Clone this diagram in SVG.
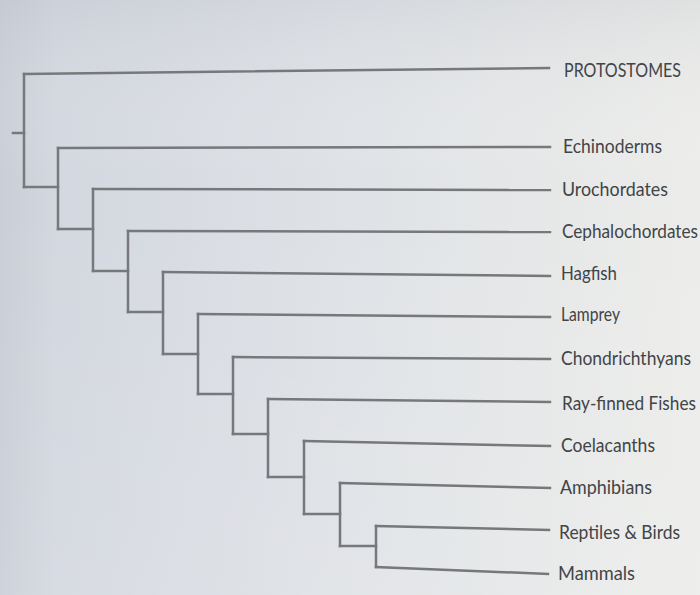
<svg xmlns="http://www.w3.org/2000/svg" width="700" height="595" viewBox="0 0 700 595">
  <defs>
    <linearGradient id="bg" x1="0" y1="0" x2="1" y2="0">
      <stop offset="0" stop-color="#c9ced7"/>
      <stop offset="0.08" stop-color="#d3d7df"/>
      <stop offset="0.5" stop-color="#dfe2e6"/>
      <stop offset="1" stop-color="#ecedea"/>
    </linearGradient>
    <linearGradient id="bgv" x1="0" y1="0" x2="0" y2="1">
      <stop offset="0" stop-color="#b9bcc6" stop-opacity="0.25"/>
      <stop offset="0.3" stop-color="#ffffff" stop-opacity="0"/>
      <stop offset="1" stop-color="#ffffff" stop-opacity="0.1"/>
    </linearGradient>
    <style>
      .ln { stroke: #77787c; stroke-width: 2.5; fill: none; stroke-linecap: square; }
      .lb { font-family: Lato, "Open Sans", "Liberation Sans", sans-serif; font-size: 17px; fill: #424448; }
    </style>
  </defs>
  <rect x="0" y="0" width="700" height="595" fill="url(#bg)"/>
  <rect x="0" y="0" width="700" height="595" fill="url(#bgv)"/>

  <g id="connectors">
    <!-- root stub -->
    <line class="ln" x1="13" y1="133" x2="24" y2="133"/>
    <!-- verticals -->
    <line class="ln" x1="24" y1="74" x2="24" y2="187"/>
    <line class="ln" x1="58" y1="148" x2="58" y2="229"/>
    <line class="ln" x1="93" y1="189" x2="93" y2="271"/>
    <line class="ln" x1="128" y1="231" x2="128" y2="312"/>
    <line class="ln" x1="163" y1="272" x2="163" y2="354"/>
    <line class="ln" x1="198" y1="314" x2="198" y2="394"/>
    <line class="ln" x1="233" y1="357" x2="233" y2="434"/>
    <line class="ln" x1="268" y1="399" x2="268" y2="477"/>
    <line class="ln" x1="304" y1="441" x2="304" y2="514"/>
    <line class="ln" x1="340" y1="483" x2="340" y2="546"/>
    <line class="ln" x1="376" y1="526" x2="376" y2="567"/>
    <!-- internal stems -->
    <line class="ln" x1="24" y1="187" x2="58" y2="187"/>
    <line class="ln" x1="58" y1="229" x2="93" y2="229"/>
    <line class="ln" x1="93" y1="271" x2="128" y2="271"/>
    <line class="ln" x1="128" y1="312" x2="163" y2="312"/>
    <line class="ln" x1="163" y1="354" x2="198" y2="354"/>
    <line class="ln" x1="198" y1="394" x2="233" y2="394"/>
    <line class="ln" x1="233" y1="434" x2="268" y2="434"/>
    <line class="ln" x1="268" y1="477" x2="304" y2="477"/>
    <line class="ln" x1="304" y1="514" x2="340" y2="514"/>
    <line class="ln" x1="340" y1="546" x2="376" y2="546"/>
    <!-- tip branches -->
    <line class="ln" x1="24" y1="74" x2="549" y2="68"/>
    <line class="ln" x1="58" y1="148" x2="550" y2="147"/>
    <line class="ln" x1="93" y1="189" x2="550" y2="190"/>
    <line class="ln" x1="128" y1="231" x2="550" y2="232"/>
    <line class="ln" x1="163" y1="272" x2="550" y2="276"/>
    <line class="ln" x1="198" y1="314" x2="550" y2="317"/>
    <line class="ln" x1="233" y1="357" x2="550" y2="359"/>
    <line class="ln" x1="268" y1="399" x2="550" y2="402"/>
    <line class="ln" x1="304" y1="441" x2="550" y2="446"/>
    <line class="ln" x1="340" y1="483" x2="550" y2="488"/>
    <line class="ln" x1="376" y1="526" x2="549" y2="530"/>
    <line class="ln" x1="376" y1="567" x2="548" y2="574"/>
  </g>

  <g id="protostomes"><text class="lb" transform="translate(564 77) scale(1 1.17)" textLength="117" lengthAdjust="spacingAndGlyphs">PROTOSTOMES</text></g>
  <g id="echinoderms"><text class="lb" transform="translate(563 153) scale(1 1.17)" textLength="99" lengthAdjust="spacingAndGlyphs">Echinoderms</text></g>
  <g id="urochordates"><text class="lb" transform="translate(562 196) scale(1 1.17)" textLength="106" lengthAdjust="spacingAndGlyphs">Urochordates</text></g>
  <g id="cephalochordates"><text class="lb" transform="translate(562 238) scale(1 1.17)" textLength="136" lengthAdjust="spacingAndGlyphs">Cephalochordates</text></g>
  <g id="hagfish"><text class="lb" transform="translate(561 280) scale(1 1.17)" textLength="56" lengthAdjust="spacingAndGlyphs">Hagfish</text></g>
  <g id="lamprey"><text class="lb" transform="translate(561 321) scale(1 1.17)" textLength="59" lengthAdjust="spacingAndGlyphs">Lamprey</text></g>
  <g id="chondrichthyans"><text class="lb" transform="translate(561 365) scale(1 1.17)" textLength="130" lengthAdjust="spacingAndGlyphs">Chondrichthyans</text></g>
  <g id="ray-finned-fishes"><text class="lb" transform="translate(562 410) scale(1 1.17)" textLength="134" lengthAdjust="spacingAndGlyphs">Ray-finned Fishes</text></g>
  <g id="coelacanths"><text class="lb" transform="translate(561 452) scale(1 1.17)" textLength="94" lengthAdjust="spacingAndGlyphs">Coelacanths</text></g>
  <g id="amphibians"><text class="lb" transform="translate(560 494) scale(1 1.17)" textLength="92" lengthAdjust="spacingAndGlyphs">Amphibians</text></g>
  <g id="reptiles-birds"><text class="lb" transform="translate(559 539) scale(1 1.17)" textLength="121" lengthAdjust="spacingAndGlyphs">Reptiles &amp; Birds</text></g>
  <g id="mammals"><text class="lb" transform="translate(558 580) scale(1 1.17)" textLength="77" lengthAdjust="spacingAndGlyphs">Mammals</text></g>
</svg>
